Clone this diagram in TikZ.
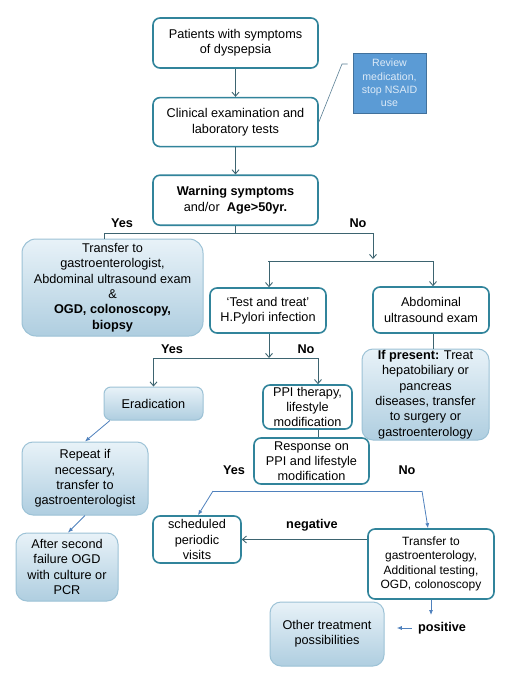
\documentclass[tikz,border=0pt]{standalone}
\usepackage{fontspec}
\setmainfont{Liberation Sans}
\usetikzlibrary{arrows.meta,positioning}
\definecolor{boxline}{HTML}{31849B}
\definecolor{softline}{HTML}{9CC2D6}
\definecolor{softtop}{HTML}{E8F2F8}
\definecolor{softbot}{HTML}{AFCEE0}
\definecolor{arrowgray}{HTML}{3D6470}
\definecolor{thinblue}{HTML}{4F81BD}
\definecolor{noteblue}{HTML}{5B9BD5}
\definecolor{noteline}{HTML}{41719C}
\definecolor{notetext}{HTML}{DCEAF7}
\definecolor{calloutline}{HTML}{5A7F94}

\begin{document}
\begin{tikzpicture}[
  x=1pt, y=-1pt,
  node distance=28pt and 28pt,
  box/.style={draw=boxline, line width=1.6pt, rounded corners=7pt, fill=white, align=center,
              inner sep=0pt, font=\fontsize{12.7}{15.3}\selectfont},
  softbox/.style={draw=softline, line width=1pt, rounded corners=11pt, top color=softtop,
                  bottom color=softbot, align=center, inner sep=0pt, font=\fontsize{12.7}{15.3}\selectfont},
  note/.style={draw=noteline, line width=0.8pt, fill=noteblue, text=notetext, align=center,
               inner sep=0pt, font=\fontsize{10.6}{13.3}\selectfont},
  lbl/.style={inner sep=0pt, font=\bfseries\fontsize{12.7}{15.3}\selectfont},
  arrow/.style={-{Straight Barb[length=4pt,width=7pt]}, draw=arrowgray, line width=0.9pt},
  link/.style={draw=arrowgray, line width=0.9pt},
  blueline/.style={draw=thinblue, line width=0.8pt},
  bluearrow/.style={-{Latex[length=5pt,width=4pt]}, draw=thinblue, line width=0.8pt},
  callout/.style={draw=calloutline, line width=0.6pt}
]
\useasboundingbox (0,0) rectangle (520,685);
\fill[white] (0,0) rectangle (520,685);

% main column
\node[box, minimum width=165pt, minimum height=50pt] (patients) at (235.5,43) {Patients with symptoms\\of dyspepsia};
\node[box, minimum width=165pt, minimum height=49pt, below=28pt of patients] (clinical) {Clinical examination and\\laboratory tests};
\node[box, minimum width=165pt, minimum height=50pt, below=27pt of clinical] (warning) {\textbf{Warning symptoms}\\and/or \ \textbf{Age>50yr.}};
\node[note, minimum width=73pt, minimum height=60pt] (review) at (389.5,83) {Review\\medication,\\stop NSAID\\use};

% branches
\node[softbox, rounded corners=14pt, minimum width=181pt, minimum height=97pt] (transfer) at (112.5,287.5)
  {Transfer to\\gastroenterologist,\\Abdominal ultrasound exam\\\&\\\textbf{OGD, colonoscopy,}\\\textbf{biopsy}};
\node[box, minimum width=116pt, minimum height=45pt] (test) at (268,310.5) {‘Test and treat’\\H.Pylori infection};
\node[box, minimum width=116pt, minimum height=46pt] (abdo) at (431,310) {Abdominal\\ultrasound exam};
\node[softbox, minimum width=127pt, minimum height=91pt] (ifpresent) at (425.5,394.5)
  {\textbf{If present:} Treat\\hepatobiliary or\\pancreas\\diseases, transfer\\to surgery or\\gastroenterology};
\node[softbox, rounded corners=7pt, minimum width=99pt, minimum height=33pt] (erad) at (153.5,403.5) {Eradication};
\node[box, font=\fontsize{12.7}{14.6}\selectfont, minimum width=89pt, minimum height=44pt] (ppi) at (307.5,407) {PPI therapy,\\lifestyle\\modification};
\node[box, minimum width=115pt, minimum height=46pt] (response) at (311.5,461) {Response on\\PPI and lifestyle\\modification};
\node[softbox, minimum width=126pt, minimum height=73pt] (repeat) at (85,478.5) {Repeat if\\necessary,\\transfer to\\gastroenterologist};
\node[softbox, minimum width=102pt, minimum height=68pt] (after) at (67,567) {After second\\failure OGD\\with culture or\\PCR};
\node[box, minimum width=88pt, minimum height=47pt] (scheduled) at (197,539.5) {scheduled\\periodic\\visits};
\node[box, font=\fontsize{12}{14.4}\selectfont, minimum width=126pt, minimum height=70pt] (transfer2) at (431,564)
  {Transfer to\\gastroenterology,\\Additional testing,\\OGD, colonoscopy};
\node[softbox, minimum width=114pt, minimum height=64pt] (other) at (327,634) {Other treatment\\possibilities};

% labels
\node[lbl] (yes1) at (122,223) {Yes};
\node[lbl] (no1) at (358,223) {No};
\node[lbl] (yes2) at (172,349) {Yes};
\node[lbl] (no2) at (306,349) {No};
\node[lbl] (yes3) at (234,470) {Yes};
\node[lbl] (no3) at (407,470) {No};
\node[lbl] (negative) at (312,525) {negative};
\node[lbl] (positive) at (442,628) {positive};

\coordinate (notebend) at (342,64);
\coordinate (wsplit) at (235.5,233);
\coordinate (nodrop) at (373,259);
\coordinate (nsplit) at (373,261);
\coordinate (tsplit) at (269,358);
\coordinate (respL) at (213,491);
\coordinate (respR) at (422,491);
\coordinate (posdrop) at (431,615);

\draw[arrow] (patients) -- (clinical);
\draw[arrow] (clinical) -- (warning);
\draw[callout] (clinical.east) -- (notebend) -- ([xshift=-5pt]review.west |- notebend);

\draw[link] (warning.south) -- (wsplit) -| ([xshift=-8.5pt]transfer.north);
\draw[arrow] (wsplit) -| (nodrop);
\draw[link] (nsplit) -- (nsplit -| test.north);
\draw[arrow] (nsplit) -| ([xshift=1pt]test.north);
\draw[arrow] (nsplit) -| ([xshift=2pt]abdo.north);
\draw[link] ([xshift=2pt]abdo.south) -- ([xshift=2pt]abdo.south |- ifpresent.north);

\draw[arrow] ([xshift=1pt]test.south) -- (tsplit);
\draw[arrow] (tsplit) -| (erad.north);
\draw[arrow] (tsplit) -| ([xshift=10.5pt]ppi.north);
\draw[link] ([xshift=10.5pt]ppi.south) -- ([xshift=10.5pt]ppi.south |- response.north);

\draw[blueline] (respL) -- (respR);
\draw[bluearrow] (respL) -- ([xshift=1pt]scheduled.north);
\draw[bluearrow] (respR) -- ([xshift=-3pt]transfer2.north);
\draw[bluearrow] ([xshift=-43.5pt]erad.south) -- (repeat.north);
\draw[bluearrow] (repeat.south) -- ([xshift=1pt]after.north);
\draw[arrow] (scheduled.east -| transfer2.west) -- (scheduled.east);
\draw[bluearrow] (transfer2.south) -- (posdrop);
\draw[bluearrow] ([xshift=-6pt]positive.west) -- ([xshift=-21pt]positive.west);
\end{tikzpicture}
\end{document}
